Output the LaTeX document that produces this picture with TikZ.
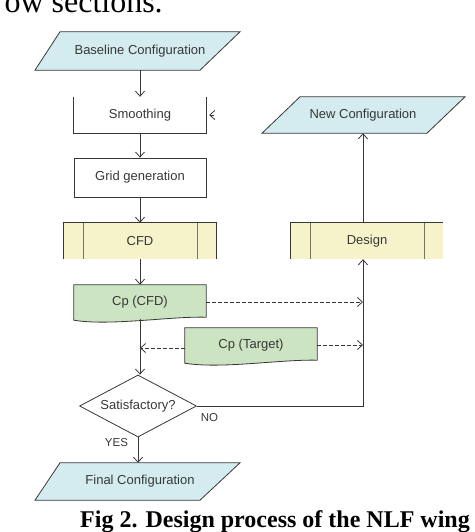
\documentclass[tikz,border=0pt]{standalone}
\usepackage{fontspec}
\setmainfont{Liberation Serif}
\newfontfamily\chartfont{Liberation Sans}
\usetikzlibrary{arrows.meta,shapes.geometric,backgrounds}
\definecolor{iofill}{RGB}{212,236,240}
\definecolor{procfill}{RGB}{246,243,202}
\definecolor{docfill}{RGB}{205,228,194}
\definecolor{inkgray}{RGB}{55,55,55}
\tikzset{
    flow/.style={font=\chartfont\fontsize{13}{15}\selectfont, text=inkgray},
    box/.style={flow, rectangle, minimum width=132pt, minimum height=36pt, inner sep=0pt},
    io/.style={flow, minimum width=140pt, inner sep=0pt},
    proc/.style={flow, fill=procfill, minimum width=152pt, minimum height=36pt, inner sep=0pt,
      path picture={\draw[inkgray!70, line width=0.8pt]
        ([xshift=19pt]path picture bounding box.north west) -- ([xshift=19pt]path picture bounding box.south west)
        ([xshift=-19pt]path picture bounding box.north east) -- ([xshift=-19pt]path picture bounding box.south east);}},
    edge/.style={draw=inkgray, line width=0.8pt},
    link/.style={edge, -{Straight Barb[length=5pt,width=9pt]}},
    feed/.style={link, dash pattern=on 3.5pt off 2.5pt},
}
\begin{document}
\begin{tikzpicture}[x=1pt, y=-1pt]
    \useasboundingbox (0,0) rectangle (474,532);
    \node[anchor=base west, font=\fontsize{32}{36}\selectfont] (intro) at (1,13) {ow sections.};

    \node[io, minimum height=38pt] (base) at (140,51) {Baseline Configuration};
    \node[box] (smooth) at (140,115) {Smoothing};
    \node[box, edge, minimum height=39pt] (grid) at (140,177.5) {Grid generation};
    \node[proc] (cfd) at (140,241) {CFD};
    \node[box, minimum height=34pt] (cpcfd) at (140,302) {Cp (CFD)};
    \node[box, minimum height=34pt] (target) at (251,345) {Cp (Target)};
    \node[flow, diamond, edge, aspect=1.9, minimum width=117pt, minimum height=62pt,
      inner sep=0pt] (sat) at (138,406) {Satisfactory?};
    \node[io, minimum height=37pt] (final) at (140,481.5) {Final Configuration};
    \node[io, minimum height=36pt] (newcfg) at (363,115) {New Configuration};
    \node[proc] (design) at (367,241) {Design};
    \node[flow, font=\chartfont\fontsize{11.5}{13}\selectfont] (no) at (209.5,418) {NO};
    \node[flow, font=\chartfont\fontsize{11.5}{13}\selectfont] (yes) at (116.5,443) {YES};

    \begin{scope}[on background layer]
      \draw[edge, fill=iofill] ([xshift=-105pt]base.south) -- ([xshift=-80pt]base.north)
        -- ([xshift=100pt]base.north) -- ([xshift=60pt]base.south) -- cycle;
      \draw[edge, fill=iofill] ([xshift=-105pt]final.south) -- ([xshift=-80pt]final.north)
        -- ([xshift=100pt]final.north) -- ([xshift=60pt]final.south) -- cycle;
      \draw[edge, fill=iofill] ([xshift=-101pt]newcfg.south) -- ([xshift=-63pt]newcfg.north)
        -- ([xshift=102pt]newcfg.north) -- ([xshift=64pt]newcfg.south) -- cycle;
      \draw[edge, fill=docfill] (cpcfd.north west) -- (cpcfd.north east) -- ([yshift=2pt]cpcfd.south east)
        .. controls ([xshift=30pt,yshift=3pt]cpcfd.south) and ([xshift=-30pt,yshift=-7pt]cpcfd.south)
        .. ([yshift=-1pt]cpcfd.south west) -- cycle;
      \draw[edge, fill=docfill] (target.north west) -- (target.north east) -- ([yshift=2pt]target.south east)
        .. controls ([xshift=30pt,yshift=3pt]target.south) and ([xshift=-30pt,yshift=-7pt]target.south)
        .. ([yshift=-1pt]target.south west) -- cycle;
    \end{scope}
    \draw[edge] (smooth.north west) |- (smooth.south east) -- (smooth.north east);
    \draw[edge] (cfd.south west) |- (cfd.north east) -- (cfd.south east);
    \draw[edge] (design.south west) |- (design.north east);

    \draw[link] (base) -- (smooth);
    \draw[link] ([xshift=8pt]smooth.east) -- ([xshift=3pt]smooth.east);
    \draw[link] (smooth) -- (grid);
    \draw[link] (grid) -- (cfd);
    \draw[link] (cfd) -- (cpcfd);
    \draw[link] (cpcfd) -- (cpcfd.south |- sat.north);
    \draw[link] (sat.south) -- (sat.south |- final.north);
    \draw[link] (sat.east) -| (design.south -| newcfg);
    \draw[link] (design.north -| newcfg) -- (newcfg.south);
    \draw[feed] (cpcfd.east) -- (cpcfd.east -| newcfg);
    \draw[feed] (target.east) -- (target.east -| newcfg);
    \draw[feed] ([yshift=-3pt]target.west) -- ([yshift=-3pt]target.west -| cpcfd.south);

    \node[anchor=base, font=\bfseries\fontsize{24}{28}\selectfont] (caption) at (275,527)
      {Fig 2. Design process of the NLF wing};
\end{tikzpicture}
\end{document}
